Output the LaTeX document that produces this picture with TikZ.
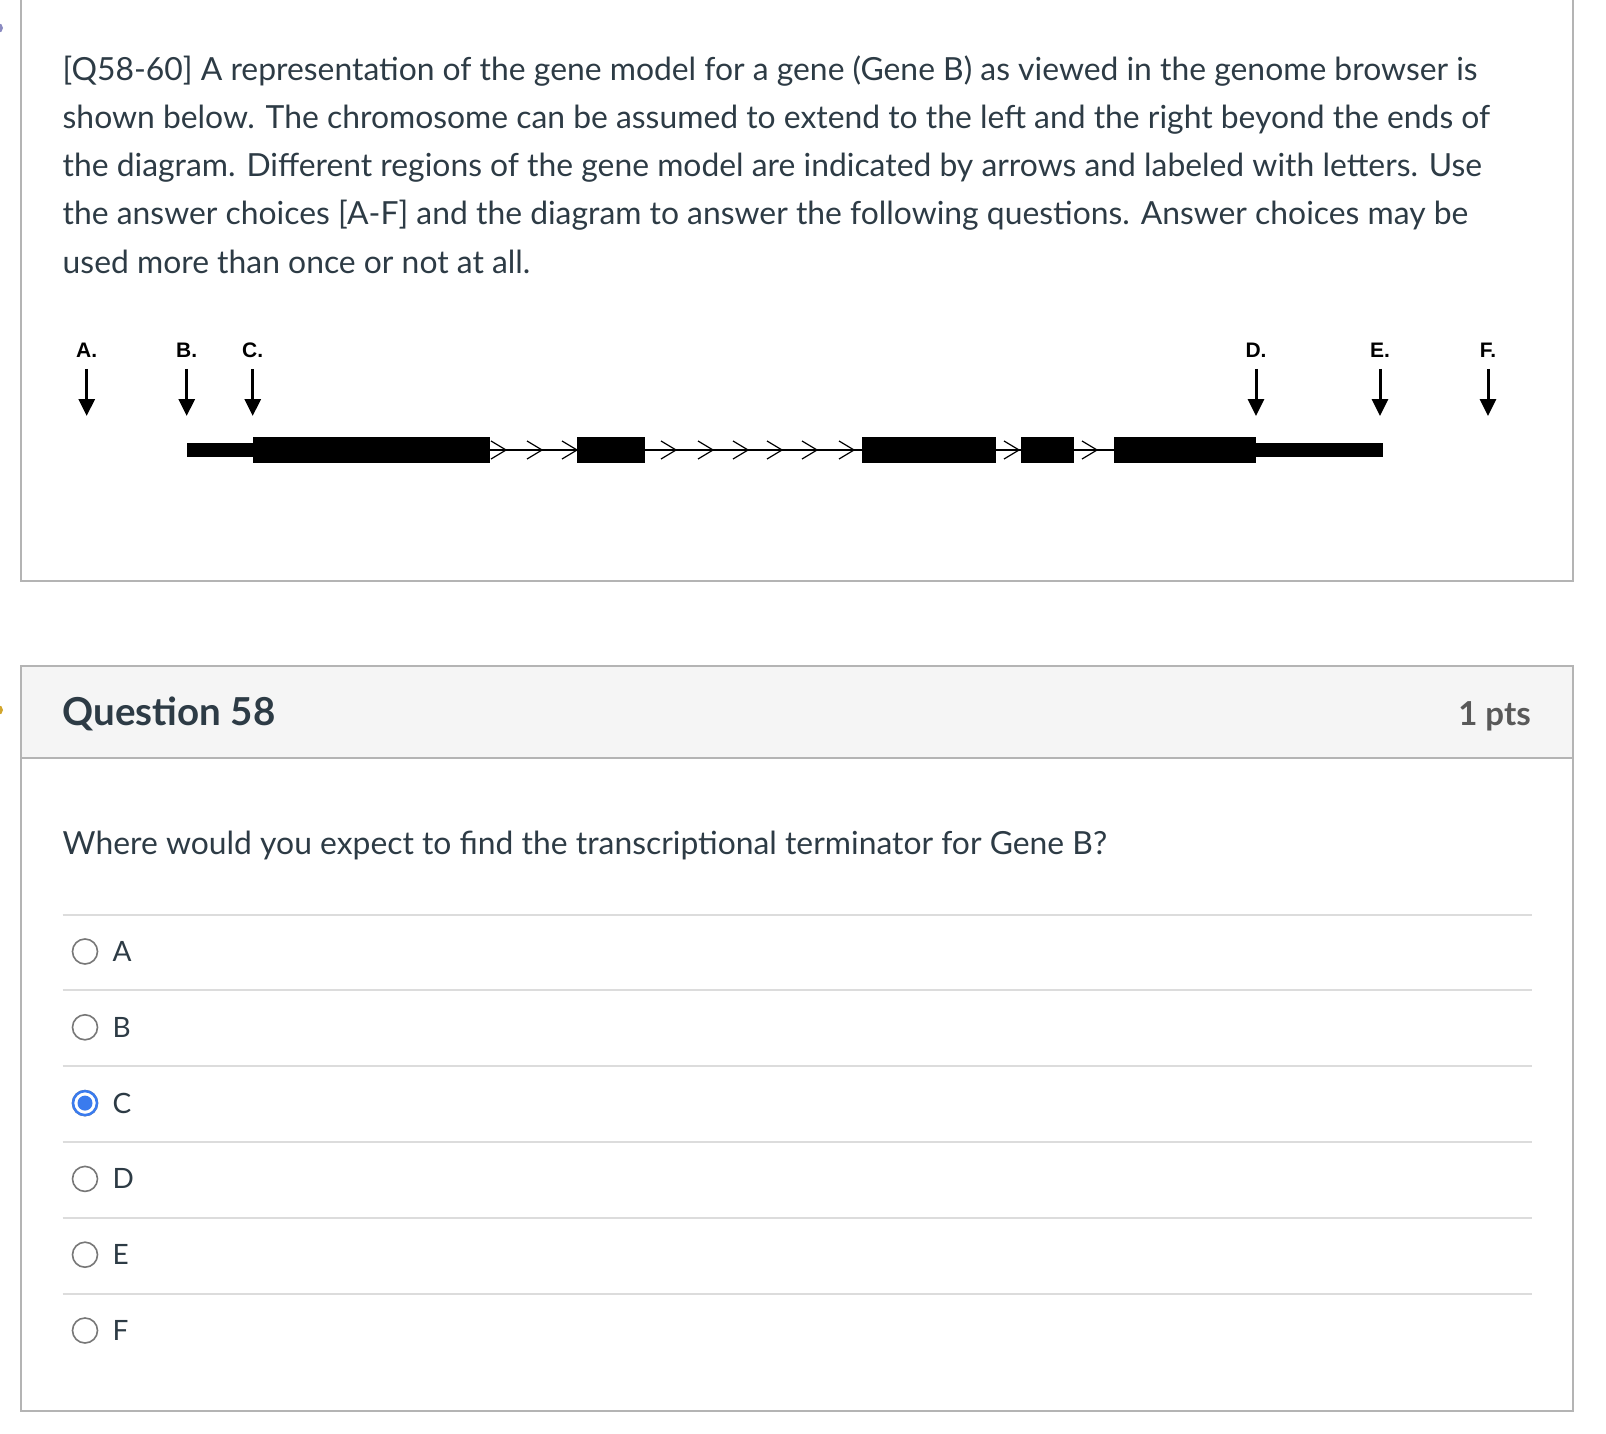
\documentclass[tikz,border=0pt]{standalone}
\usepackage{fontspec}
\setmainfont{Lato}
\newfontfamily\arialfont{Liberation Sans}
\usetikzlibrary{arrows.meta}
\definecolor{canvastext}{HTML}{2D3B45}
\definecolor{boxline}{HTML}{B4B4B4}
\definecolor{headfill}{HTML}{F5F5F5}
\definecolor{rowline}{HTML}{DCDCDC}
\definecolor{radioline}{HTML}{777777}
\definecolor{radioblue}{HTML}{3A7BEE}

\begin{document}
\begin{tikzpicture}[x=1pt,y=-1pt,
  body/.style={anchor=base west,inner sep=0pt,text=canvastext,font=\fontsize{31.85}{40}\selectfont},
  genelab/.style={inner sep=0pt,font=\arialfont\bfseries\fontsize{21}{22}\selectfont},
  markarrow/.style={line width=3pt,-{Triangle[width=16pt,length=17pt]}},
  radio/.style={circle,draw=radioline,line width=1.6pt,minimum size=25pt,inner sep=0pt}]
\useasboundingbox (0,0) rectangle (1606,1434);

% page edge marks
\fill[blue!30!gray!70] (-2,28) circle (5);
\fill[brown!70!yellow] (-2,710) circle (5);

% intro box
\draw[boxline,line width=2pt] (21,-5) -- (21,581) -- (1573,581) -- (1573,-5);
\node[body] (l1) at (62.5,81) {[Q58-60] A representation of the gene model for a gene (Gene B) as viewed in the genome browser is};
\node[body] (l2) at (62.5,129) {shown below. The chromosome can be assumed to extend to the left and the right beyond the ends of};
\node[body] (l3) at (62.5,177) {the diagram. Different regions of the gene model are indicated by arrows and labeled with letters. Use};
\node[body] (l4) at (62.5,225) {the answer choices [A-F] and the diagram to answer the following questions. Answer choices may be};
\node[body] (l5) at (62.5,273) {used more than once or not at all.};

% gene model
\draw[line width=2pt] (489,450) -- (1114,450);
\fill (187,443) rectangle (254,457);
\fill (1255,443) rectangle (1383,457);
\foreach \a/\b in {253.3/489.6,577/645,862/996,1021/1074,1113.5/1256}
	\fill (\a,437) rectangle (\b,463);
\foreach \x in {506,542,577,676,713,748,782,817,854,1019,1097}
	\draw[line width=1.2pt] (\x-15,441) -- (\x,450) -- (\x-15,459);

% region markers
\foreach \n/\x in {A/86.7,B/186.7,C/252.7,D/1256,E/1380,F/1488} {
	\node[genelab] (lab\n) at (\x,350.5) {\n.};
	\coordinate (tip\n) at (\x,416);
	\draw[markarrow,shorten <=11pt] (tip\n |- lab\n.south) -- (tip\n);
}

% question box
\draw[boxline,line width=2pt,fill=white] (21,666) rectangle (1573,1411);
\filldraw[fill=headfill,draw=boxline,line width=2pt] (21,666) rectangle (1573,758);
\node[body,font=\bfseries\fontsize{38.5}{40}\selectfont] (qtitle) at (62.5,725) {Question 58};
\node[body,anchor=base east,text=black!65,font=\bfseries\fontsize{33}{40}\selectfont] (qpts) at (1531,725) {1 pts};
\node[body] (qtext) at (62.5,854) {Where would you expect to find the transcriptional terminator for Gene B?};

\foreach \y in {914.6,990.4,1066.2,1142,1217.8,1293.6}
	\draw[rowline,line width=2pt] (62.5,\y) -- (1532,\y);
\foreach \l [count=\i] in {A,B,C,D,E,F} {
	\node[radio] (r\l) at (85,951.5+75.8*\i-75.8) {};
	\node[body,font=\fontsize{28}{30}\selectfont] (o\l) at (112.5,961.5+75.8*\i-75.8) {\l};
}
\draw[radioblue,line width=2.5pt,fill=white] (rC) circle (12);
\fill[radioblue] (rC) circle (7.5);
\end{tikzpicture}
\end{document}
